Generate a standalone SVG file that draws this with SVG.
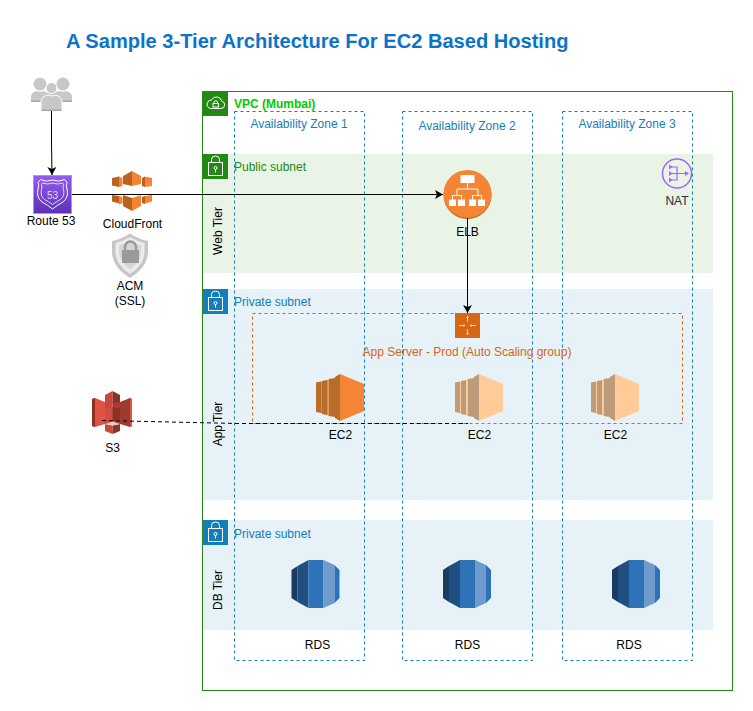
<svg xmlns="http://www.w3.org/2000/svg" xmlns:xlink="http://www.w3.org/1999/xlink" width="753" height="711" viewBox="0 0 753 711">
<style>
text{font-family:"Liberation Sans",Arial,sans-serif;font-size:12px;fill:#000}
.m{text-anchor:middle}
.az{fill:none;stroke:#147eba;stroke-width:1;stroke-dasharray:3 3}
.azt{fill:#147eba;text-anchor:middle}
.lock{fill:none;stroke:#fff;stroke-width:1}
.conn{fill:none;stroke:#000;stroke-width:1}
.sub{fill:#147eba}
</style>
<defs>
<marker id="arr" markerUnits="userSpaceOnUse" markerWidth="9" markerHeight="10" refX="8" refY="5" orient="auto"><path d="M0 0.500L8 5L0 9.500L2 5Z" fill="#000"/></marker>
<g id="lockIcon"><rect x="5.500" y="8.500" width="14" height="13" class="lock"/><path d="M8.500 8.500V5.500a4 3.500 0 0 1 8 0v3" class="lock"/><circle cx="12.500" cy="14" r="1.500" class="lock"/><path d="M12.500 15.500V18.500" class="lock"/></g>
<g id="ec2Shape"><path d="M0 8.500L5 7.500V39L0 38Z" fill="var(--d)"/><path d="M6 7L11 6V41L6 40Z" fill="var(--d)"/><path d="M12.500 5L19 4V43L12.500 42Z" fill="var(--d)"/><path d="M19 3L24 0V47L19 44Z" fill="var(--d)"/><path d="M5 7.500L6 7.500V39.500L5 39Z" fill="var(--m)"/><path d="M11 6L12.500 5.500V41L11 41Z" fill="var(--m)"/><path d="M24 0L48 10V37L24 47Z" fill="var(--m)"/></g>
<g id="rdsShape"><path d="M0 10L6 6V42L0 38Z" fill="#1a3a5e"/><path d="M6 6L17 0V48L6 42Z" fill="#1f4f80"/><path d="M17 0H32V48H17Z" fill="#2e73b8"/><path d="M32 0L43 5V43L32 48Z" fill="#6f9ccd"/><path d="M43 5L48 10V38L43 43Z" fill="#2e73b8"/></g>
<linearGradient id="r53" x1="0" y1="0" x2="0" y2="1"><stop offset="0" stop-color="#945df2"/><stop offset="1" stop-color="#5a30b5"/></linearGradient>
</defs>
<rect width="753" height="711" fill="#fff"/>
<text x="66" y="48" style="font-size:20.080px;font-weight:bold;fill:#0b74c9">A Sample 3-Tier Architecture For EC2 Based Hosting</text>

<g id="vpc">
<rect x="202.500" y="91.500" width="530" height="599" fill="#fff" stroke="#248814"/>
<rect x="203" y="91" width="25" height="25" fill="#248814"/>
<path d="M210.500 108.500h10.500a3.700 3.700 0 0 0 .8-7.300 5.500 5.500 0 0 0-10.300-1.200 4.300 4.300 0 0 0-1 8.500z" class="lock"/>
<rect x="213" y="103.500" width="5.500" height="3.500" class="lock"/>
<path d="M214 103.500v-1a1.700 1.700 0 0 1 3.500 0v1" class="lock"/>
<text x="234" y="108" style="font-weight:bold;fill:#00cc00">VPC (Mumbai)</text>
</g>
<g id="public-subnet">
<rect x="203" y="154" width="510" height="119" fill="#e9f3e6"/>
<rect x="203" y="154" width="25" height="25" fill="#248814"/>
<use xlink:href="#lockIcon" x="203" y="154"/>
<text x="234" y="171" style="fill:#248814">Public subnet</text>
<text transform="translate(222,231) rotate(-90)" class="m">Web Tier</text>
</g>
<g id="app-subnet">
<rect x="203" y="289" width="510" height="211" fill="#e6f2f8"/>
<rect x="203" y="289" width="25" height="25" class="sub"/>
<use xlink:href="#lockIcon" x="203" y="289"/>
<text x="234" y="306" style="fill:#147eba">Private subnet</text>
<text transform="translate(222,424) rotate(-90)" class="m">App Tier</text>
</g>
<g id="db-subnet">
<rect x="203" y="520" width="510" height="110" fill="#e6f2f8"/>
<rect x="203" y="520" width="25" height="25" class="sub"/>
<use xlink:href="#lockIcon" x="203" y="520"/>
<text x="234" y="538" style="fill:#147eba">Private subnet</text>
<text transform="translate(222,590) rotate(-90)" class="m">DB Tier</text>
</g>
<g id="az1"><rect x="234.500" y="111.500" width="130" height="549" class="az"/><text x="299" y="128" class="azt">Availability Zone 1</text></g>
<g id="az2"><rect x="402.500" y="111.500" width="130" height="549" class="az"/><text x="467" y="130" class="azt">Availability Zone 2</text></g>
<g id="az3"><rect x="562.500" y="111.500" width="130" height="549" class="az"/><text x="627" y="128" class="azt">Availability Zone 3</text></g>

<g id="users">
<g fill="#c8c8c8">
<circle cx="40" cy="84" r="6.500"/><circle cx="63" cy="84" r="6.500"/>
<path d="M31 102V96q1-4 6-5l3 1 3-1 8 3 8-3 4 1 3-1q5 1 6 5v6z"/>
<path d="M31 100.500h41V102H31z" fill="#a8a8a8"/>
<path d="M41 111V101q1-5 7-6l3.500 1 3.500-1q6 1 7 6v10z" stroke="#fff" stroke-width="1"/>
<circle cx="51.500" cy="88" r="5.500" stroke="#fff" stroke-width="1"/>
<path d="M41.500 109.500h20V111h-20z" fill="#a8a8a8"/>
</g>
</g>
<g id="route53">
<rect x="33" y="175" width="39" height="39" fill="url(#r53)"/>
<rect x="33.500" y="175.500" width="38" height="38" fill="none" stroke="#b48cf5"/>
<path d="M52.500 180q6 2.500 12-.5l2.500 3q-1.500 3 0 6.500 2 8-4 13-5 2.500-10.500 7-5.500-4.500-10.500-7-6-5-4-13 1.500-3.500 0-6.500l2.500-3q6 3 12 .5z" fill="none" stroke="#fff"/>
<path d="M52.500 183q5 2 10 0l1 1.500q-1 2.500 0 5 1.500 6.500-3 10-4 2-8 5-4-3-8-5-4.500-3.500-3-10 1-2.500 0-5l1-1.500q5 2 10 0z" fill="none" stroke="#fff" stroke-width=".8"/>
<text x="52.500" y="199" class="m" style="font-size:10px;fill:#e6d8fb">53</text>
<text x="51" y="225" class="m">Route 53</text>
</g>
<g id="cloudfront">
<path d="M112 178l7-1.500v10.500l-7-1.500z" fill="#b8641f"/><path d="M119 176.500l3.500 1.500v8l-3.500 1z" fill="#f58534"/>
<path d="M123 176l9-5v15l-9-2z" fill="#b8641f"/><path d="M132 171l9 5v8l-9 2z" fill="#f58534"/>
<path d="M142 178l3-1.500v10.500l-3-1z" fill="#b8641f"/><path d="M145 176.500l7 1.500v8l-7 1z" fill="#f58534"/>
<path d="M112 195v6.500l7 2V196z" fill="#b8641f"/><path d="M119 196l3.500 1v6.500l-3.500 1z" fill="#f58534"/>
<path d="M123 195l9 3v13l-9-5z" fill="#b8641f"/><path d="M132 198l9-3v11l-9 5z" fill="#f58534"/>
<path d="M142 197l3-1v8l-3-1z" fill="#b8641f"/><path d="M145 196l7-1v6.500l-7 2z" fill="#f58534"/>
<text x="132.500" y="228" class="m">CloudFront</text>
</g>
<g id="acm">
<path d="M130 233.500q9 6 18 7.500v10q0 16-18 27-18-11-18-27v-10q9-1.500 18-7.500z" fill="#c6c6c6"/>
<path d="M130 237q7.500 4.500 14.500 6v8.500q0 13-14.500 22.500-14.500-9.500-14.500-22.500V243q7-1.500 14.500-6z" fill="#ececec"/>
<path d="M130 241q5.500 3 11 4.500v6q0 10-11 18-11-8-11-18v-6q5.500-1.500 11-4.500z" fill="#d6d6d6"/>
<rect x="122" y="250" width="17" height="13" fill="#9a9a9a"/>
<path d="M125 250v-3a5.500 5.500 0 0 1 11 0v3" fill="none" stroke="#9a9a9a" stroke-width="2.500"/>
<text x="130" y="290" class="m">ACM</text><text x="130" y="305" class="m">(SSL)</text>
</g>
<g id="s3">
<path d="M105 402h7.500v22H105z" fill="#c5493c"/>
<path d="M112.500 402h7.500v22h-7.500z" fill="#a63d30"/>
<path d="M92 399l3-1 10 4v22l-10 3-3-1z" fill="#e05243"/>
<path d="M92 399l3-1v29l-3-1z" fill="#8c3123"/>
<path d="M120 402l10-4 2 1v27l-2 1-10-3z" fill="#9c3b2e"/>
<path d="M130 398l2 1v27l-2 1z" fill="#e05243"/>
<path d="M105 395l7.500-4v12l-7.500-1z" fill="#c5493c"/><path d="M112.500 391l7.500 4v7l-7.500 1z" fill="#8c3123"/>
<path d="M105 409l7.500-2v14l-7.500-2z" fill="#d04e41"/><path d="M112.500 407l7.500 2v10l-7.500 2z" fill="#8c3123"/>
<path d="M105 424l7.500 1.500V434l-7.500-3z" fill="#c5493c"/><path d="M112.500 425.500l7.500-1.500v7l-7.500 3z" fill="#8c3123"/>
<path d="M105 424l7.500-2.500 7.500 2.500-7.500 1.500z" fill="#f3c6c0"/>
<text x="112.500" y="452" class="m">S3</text>
</g>
<g id="elb">
<circle cx="467.500" cy="195" r="24" fill="#a9632a"/>
<circle cx="467.500" cy="194" r="24" fill="#f58534"/>
<g fill="#fff"><rect x="460.500" y="175" width="14" height="8"/><rect x="449" y="199.500" width="7" height="6.500"/><rect x="458" y="199.500" width="7" height="6.500"/><rect x="469" y="199.500" width="7" height="6.500"/><rect x="478" y="199.500" width="7" height="6.500"/></g>
<path d="M467.500 183v6M457 196v-7h21v7M452.500 199.500v-4h9v4M472.500 199.500v-4h9v4" fill="none" stroke="#fff"/>
<text x="467.500" y="236" class="m">ELB</text>
</g>
<g id="nat">
<circle cx="677" cy="173.500" r="14.500" fill="none" stroke="#a166ff" stroke-width="1.500"/>
<path d="M671 167h6v13h-6M671 173.500h15" fill="none" stroke="#a166ff" stroke-width="1.200"/>
<path d="M669 164.500l3.500 2.500-3.500 2.500zM669 171l3.500 2.500-3.500 2.500zM669 177.500l3.500 2.500-3.500 2.500zM685 171l4 2.500-4 2.500z" fill="#a166ff"/>
<text x="677" y="205" class="m" style="fill:#232f3e">NAT</text>
</g>
<g id="asg">
<rect x="252.500" y="313.500" width="430" height="110" fill="none" stroke="#d86613" stroke-dasharray="3 3"/>
<rect x="455" y="313" width="25" height="25" fill="#d86613"/>
<path d="M467.500 316v6M467.500 329v6M459 325.500h6M470 325.500h6" stroke="#f5d9c4" stroke-width="1" fill="none"/>
<path d="M466 318l1.500-2 1.500 2zM466 333l1.500 2 1.500-2zM463.500 324l2 1.500-2 1.500zM471.500 324l-2 1.500 2 1.500z" fill="#f5d9c4"/>
<text x="467" y="356" class="m" style="fill:#d86613">App Server - Prod (Auto Scaling group)</text>
</g>
<g id="ec2-1" style="--d:#b96d2b;--m:#f58534"><use xlink:href="#ec2Shape" x="316" y="374"/><text x="340.500" y="439" class="m">EC2</text></g>
<g id="ec2-2" style="--d:#bd9a78;--m:#ffcc99"><use xlink:href="#ec2Shape" x="455" y="374"/><text x="479.500" y="439" class="m">EC2</text></g>
<g id="ec2-3" style="--d:#bd9a78;--m:#ffcc99"><use xlink:href="#ec2Shape" x="591" y="374"/><text x="615.500" y="439" class="m">EC2</text></g>
<g id="rds-1"><use xlink:href="#rdsShape" x="291.500" y="560"/><text x="317.500" y="649" class="m">RDS</text></g>
<g id="rds-2"><use xlink:href="#rdsShape" x="443" y="560"/><text x="467.500" y="649" class="m">RDS</text></g>
<g id="rds-3"><use xlink:href="#rdsShape" x="612" y="560"/><text x="629" y="649" class="m">RDS</text></g>

<g id="connectors">
<path d="M51.500 111V143L52 175" class="conn" marker-end="url(#arr)"/>
<path d="M72 194.500H443" class="conn" marker-end="url(#arr)"/>
<path d="M467.500 218V313" class="conn" marker-end="url(#arr)"/>
<path d="M102 420.500L238 423.500H468" class="conn" stroke-dasharray="4 3"/>
</g>
</svg>
